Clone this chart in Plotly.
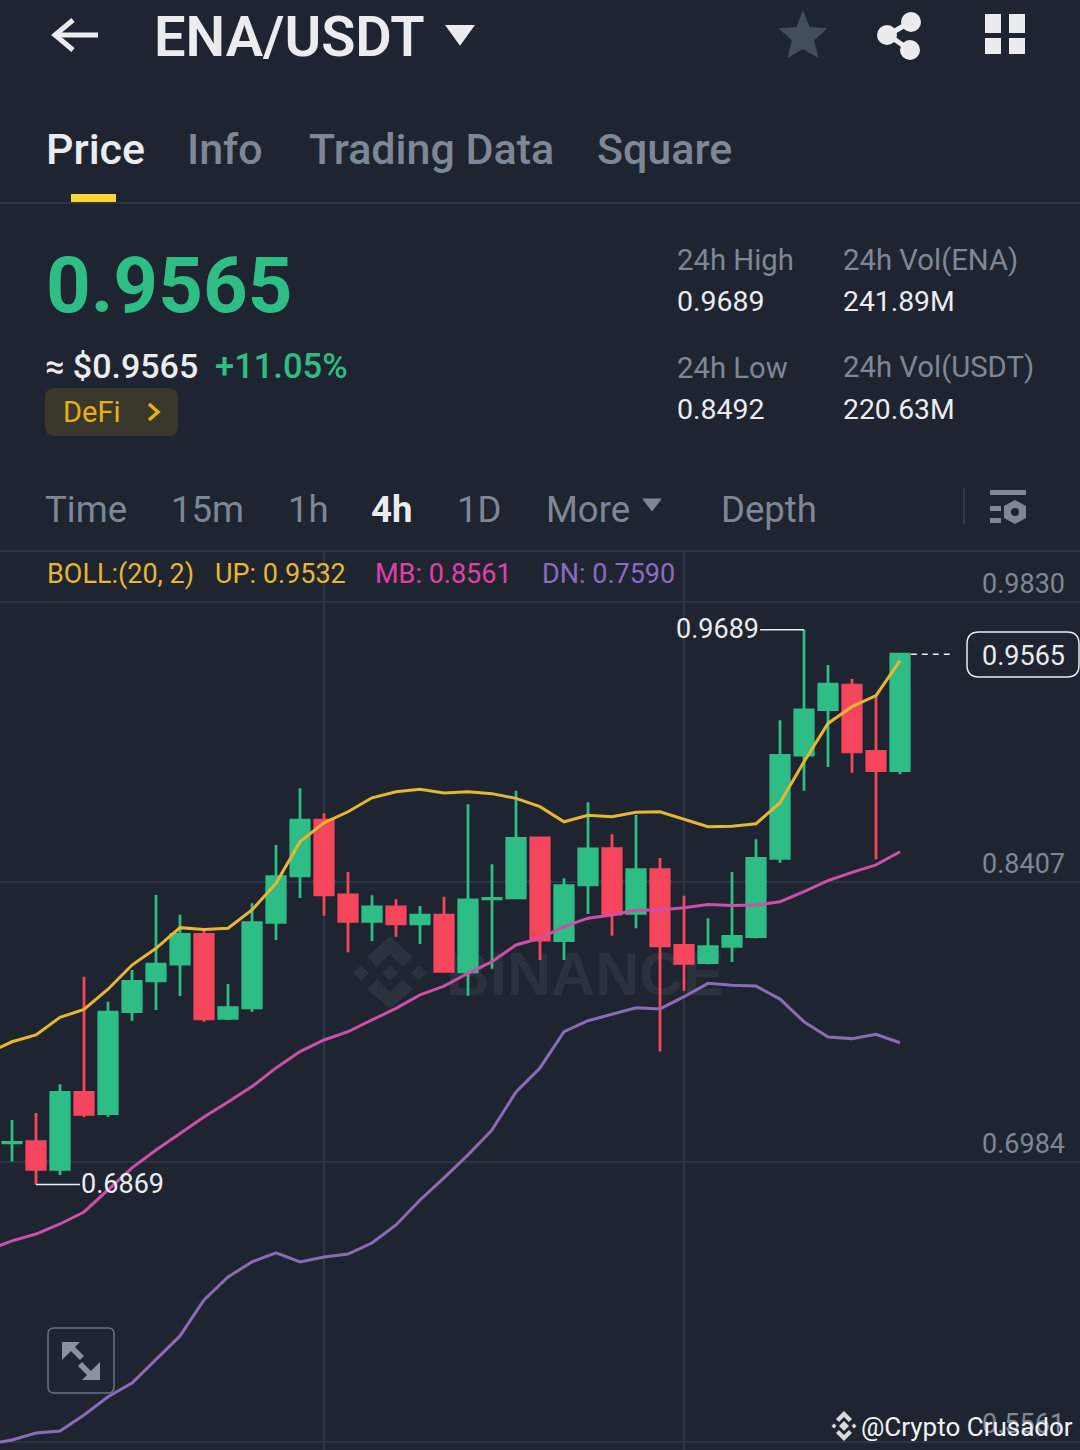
import plotly.graph_objects as go

# ---------- data ----------
candle_index = list(range(38))
opens = [0.7081,0.7087,0.6947,0.7338,0.7230,0.7748,0.7904,0.7990,0.8141,0.7714,0.7768,0.8202,0.8438,0.8721,0.8342,0.8207,0.8280,0.8194,0.8238,0.7950,0.8321,0.8327,0.8631,0.8109,0.8392,0.8576,0.8248,0.8470,0.8085,0.7997,0.8080,0.8129,0.8527,0.9052,0.9283,0.9407,0.9071,0.8973]
highs = [0.7197,0.7233,0.7379,0.7926,0.7799,0.7960,0.8341,0.8241,0.8163,0.7889,0.8299,0.8595,0.8883,0.8756,0.8458,0.8340,0.8319,0.8285,0.8332,0.8802,0.8497,0.8871,0.8634,0.8426,0.8812,0.8650,0.8748,0.8529,0.8337,0.8223,0.8458,0.8624,0.9229,0.9689,0.9510,0.9439,0.9354,0.9565]
lows = [0.6986,0.6869,0.6918,0.7211,0.7214,0.7702,0.7757,0.7828,0.7697,0.7706,0.7748,0.8112,0.8326,0.8236,0.8050,0.8107,0.8129,0.8092,0.7946,0.7829,0.7966,0.8327,0.8011,0.8011,0.8244,0.8134,0.8172,0.7545,0.7853,0.7989,0.8000,0.8121,0.8505,0.8871,0.8991,0.8962,0.8522,0.8954]
closes = [0.7083,0.6947,0.7338,0.7226,0.7745,0.7902,0.7989,0.8141,0.7711,0.7768,0.8200,0.8434,0.8721,0.8342,0.8207,0.8280,0.8194,0.8238,0.7953,0.8316,0.8324,0.8629,0.8112,0.8388,0.8575,0.8244,0.8470,0.8083,0.7994,0.8078,0.8131,0.8527,0.9051,0.9281,0.9412,0.9069,0.8973,0.9565]

band_index = list(range(-1, 38))
boll_up = [0.7539,0.7595,0.7630,0.7719,0.7760,0.7862,0.7985,0.8070,0.8175,0.8165,0.8172,0.8265,0.8400,0.8612,0.8708,0.8764,0.8835,0.8866,0.8878,0.8859,0.8866,0.8856,0.8832,0.8790,0.8713,0.8746,0.8739,0.8761,0.8764,0.8727,0.8688,0.8690,0.8703,0.8810,0.9018,0.9213,0.9298,0.9354,0.9532]
boll_mb = [0.6537,0.6583,0.6618,0.6669,0.6730,0.6842,0.6954,0.7045,0.7131,0.7213,0.7289,0.7367,0.7462,0.7545,0.7604,0.7646,0.7706,0.7765,0.7833,0.7878,0.7943,0.8002,0.8087,0.8121,0.8180,0.8223,0.8239,0.8265,0.8265,0.8276,0.8292,0.8287,0.8290,0.8307,0.8358,0.8414,0.8456,0.8494,0.8561]
boll_dn = [0.5551,0.5571,0.5607,0.5617,0.5698,0.5791,0.5861,0.5978,0.6100,0.6283,0.6400,0.6476,0.6522,0.6476,0.6501,0.6516,0.6572,0.6664,0.6791,0.6903,0.7020,0.7147,0.7340,0.7462,0.7646,0.7702,0.7736,0.7768,0.7762,0.7824,0.7892,0.7882,0.7878,0.7812,0.7697,0.7619,0.7611,0.7633,0.7590]

y_ticks = [0.9830, 0.8407, 0.6984, 0.5561]
y_tick_labels = ["0.9830", "0.8407", "0.6984", "0.5561"]
last_price = 0.9565
high_price = 0.9689
high_index = 33
low_price = 0.6869
low_index = 1

# ---------- style ----------
W, H = 1080, 1450
BG = "#1E2530"
GRID = "#2E3542"
GREEN = "#2EBD85"
RED = "#F6465D"
TXT = "#EAECEF"
GREY = "#7E8796"
YEL = "#E8B62F"
MAG = "#CE4FA8"
PUR = "#8A6BB8"
FONT = "Roboto"

fig = go.Figure()
fig.add_trace(go.Candlestick(
    x=candle_index, open=opens, high=highs, low=lows, close=closes,
    increasing=dict(line=dict(color=GREEN, width=2.8), fillcolor=GREEN),
    decreasing=dict(line=dict(color=RED, width=2.8), fillcolor=RED),
    whiskerwidth=0, showlegend=False, name="ENA/USDT"))
for name, vals, col in [("UP", boll_up, YEL), ("MB", boll_mb, MAG), ("DN", boll_dn, PUR)]:
    fig.add_trace(go.Scatter(x=band_index, y=vals, mode="lines", name=name,
                             line=dict(color=col, width=3), showlegend=False))

ann, shp = [], []
def px(x): return x / W
def py(y): return 1 - y / H
def T(text, x, y, size, color=TXT, anchor="left", weight=400, family=FONT):
    ann.append(dict(text=text, x=px(x - 3), y=py(y), xref="paper", yref="paper", xanchor=anchor,
                    yanchor="middle", showarrow=False,
                    font=dict(size=size, color=color, family=family, weight=weight)))
def path(points, fill=None, stroke=None, width=0, close=True, layer="above"):
    d = "M " + " L ".join(f"{px(a):.5f},{py(b):.5f}" for a, b in points) + (" Z" if close else "")
    shp.append(dict(type="path", path=d, xref="paper", yref="paper", layer=layer,
                    fillcolor=fill if fill else "rgba(0,0,0,0)",
                    line=dict(color=stroke if stroke else "rgba(0,0,0,0)", width=width)))
def rect(x0, y0, x1, y1, fill):
    path([(x0, y0), (x1, y0), (x1, y1), (x0, y1)], fill=fill)
def rrect(x0, y0, x1, y1, r, fill=None, stroke=None, width=0):
    X0, X1, Y0, Y1 = px(x0), px(x1), py(y0), py(y1)
    rx, ry = r / W, r / H
    d = (f"M {X0+rx},{Y0} L {X1-rx},{Y0} Q {X1},{Y0} {X1},{Y0-ry} L {X1},{Y1+ry} Q {X1},{Y1} {X1-rx},{Y1} "
         f"L {X0+rx},{Y1} Q {X0},{Y1} {X0},{Y1+ry} L {X0},{Y0-ry} Q {X0},{Y0} {X0+rx},{Y0} Z")
    shp.append(dict(type="path", path=d, xref="paper", yref="paper",
                    fillcolor=fill if fill else "rgba(0,0,0,0)",
                    line=dict(color=stroke if stroke else "rgba(0,0,0,0)", width=width)))
def circle(cx, cy, r, fill):
    shp.append(dict(type="circle", xref="paper", yref="paper", x0=px(cx - r), x1=px(cx + r),
                    y0=py(cy + r), y1=py(cy - r), fillcolor=fill, line=dict(width=0)))

# header
path([(73, 20), (55, 35), (73, 50)], stroke=TXT, width=5, close=False)
path([(56, 35), (98, 35)], stroke=TXT, width=5, close=False)
T("ENA/USDT", 155, 37, 56, weight=600)
path([(447, 26), (473, 26), (460, 44)], fill=TXT, stroke=TXT, width=2)
path([(803, 13), (809, 28), (825, 29), (813, 40), (817, 56), (803, 48), (789, 56), (793, 40), (781, 29), (797, 28)],
     fill="#434D5C", stroke="#434D5C", width=2)
path([(912, 21), (888, 35), (910, 50)], stroke=TXT, width=5, close=False)
circle(911, 22, 10, TXT); circle(887, 35, 10, TXT); circle(910, 50, 10, TXT)
rect(985, 14, 1001, 33, TXT); rect(1009, 14, 1025, 33, TXT)
rect(985, 38, 1001, 54, TXT); rect(1009, 38, 1025, 54, TXT)

# tabs
T("Price", 47, 149, 43, weight=500)
T("Info", 188, 149, 43, GREY, weight=500)
T("Trading Data", 310, 149, 43, GREY, weight=500)
T("Square", 598, 149, 43, GREY, weight=500)
rect(0, 202, W, 204, GRID)
rect(71, 194, 116, 202, "#FCD535")

# price block
T("0.9565", 47, 286, 78, GREEN, weight=700)
T("≈ $0.9565", 46, 366, 34, TXT, weight=500)
T("+11.05%", 216, 366, 34.5, GREEN, weight=500)
rrect(45, 388, 178, 436, 10, fill="#3A382C")
T("DeFi", 64, 412, 29, "#E8B10F")
path([(149, 404), (158, 412), (149, 420)], stroke="#E8B10F", width=3.5, close=False)
T("24h High", 678, 260, 29.3, GREY)
T("0.9689", 678, 301, 28.5)
T("24h Vol(ENA)", 844, 260, 29.3, GREY)
T("241.89M", 844, 301, 28.3)
T("24h Low", 678, 368, 29.3, GREY)
T("0.8492", 678, 409, 28.5)
T("24h Vol(USDT)", 844, 367, 29.3, GREY)
T("220.63M", 844, 409, 28.3)

# timeframe row
for label, x, col, w in [("Time", 46, GREY, 400), ("15m", 172, GREY, 400), ("1h", 289, GREY, 400),
                         ("4h", 372, TXT, 700), ("1D", 458, GREY, 400), ("More", 547, GREY, 400),
                         ("Depth", 722, GREY, 400)]:
    T(label, x, 509, 36.5, col, weight=w)
path([(643, 499), (661, 499), (652, 511)], fill=GREY, stroke=GREY, width=1)
rect(963, 488, 965, 524, "#343B48")
rect(990, 490, 1026, 495, GREY)
rect(990, 506, 1001, 511, GREY); rect(990, 518, 1001, 523, GREY)
path([(1015, 500), (1026, 506), (1026, 518), (1015, 524), (1004, 518), (1004, 506)], fill=GREY)
circle(1015, 512, 4, BG)
rect(0, 550, W, 552, GRID)

# indicator legend
T("BOLL:(20, 2)", 48, 574, 27, "#E8B62F")
T("UP: 0.9532", 216, 574, 27, "#E8B62F")
T("MB: 0.8561", 376, 574, 27, "#E040A8")
T("DN: 0.7590", 543, 574, 27, "#8C6BC4")

# watermark (below the marks)
WM = "#2C323D"
path([(353, 973), (361, 965), (369, 973), (361, 981)], fill=WM, layer="below")
path([(411, 973), (419, 965), (427, 973), (419, 981)], fill=WM, layer="below")
path([(382, 973), (390, 965), (398, 973), (390, 981)], fill=WM, layer="below")
path([(367, 957), (390, 936), (413, 957), (403, 967), (390, 954), (377, 967)], fill=WM, layer="below")
path([(367, 989), (377, 979), (390, 992), (403, 979), (413, 989), (390, 1009)], fill=WM, layer="below")
shp.append(dict(type="rect", xref="paper", yref="paper", x0=px(440), x1=px(730), y0=py(1008), y1=py(928),
                layer="below", line=dict(width=0), fillcolor="rgba(0,0,0,0)",
                label=dict(text="BINANCE", textposition="middle center",
                           font=dict(size=61, color=WM, family="Liberation Sans", weight=700))))

# price markers through the axes
shp.append(dict(type="line", xref="x", yref="y", x0=high_index, x1=high_index - 1.83, y0=high_price, y1=high_price,
                line=dict(color=TXT, width=1.5)))
ann.append(dict(text=f"{high_price:.4f}", x=high_index - 1.9, y=high_price, xref="x", yref="y", xanchor="right",
                yanchor="middle", showarrow=False, xshift=3, yshift=1, font=dict(size=27, color=TXT, family=FONT)))
shp.append(dict(type="line", xref="x", yref="y", x0=low_index, x1=low_index + 1.83, y0=low_price, y1=low_price,
                line=dict(color=TXT, width=1.5)))
ann.append(dict(text=f"{low_price:.4f}", x=low_index + 1.9, y=low_price, xref="x", yref="y", xanchor="left",
                yanchor="middle", showarrow=False, xshift=-3, yshift=1, font=dict(size=27, color=TXT, family=FONT)))
shp.append(dict(type="line", xref="x", yref="y", x0=37.45, x1=39.2, y0=last_price, y1=last_price,
                line=dict(color=TXT, width=1.5, dash="6px,5px")))
rrect(967, 632, 1079, 677, 12, fill=BG, stroke=TXT, width=1.5)
ann.append(dict(text=f"{last_price:.4f}", x=px(1023), y=last_price, xref="paper", yref="y", xanchor="center",
                yanchor="middle", showarrow=False, yshift=-2, font=dict(size=27, color=TXT, family=FONT)))

# expand button
rrect(48, 1328, 114, 1393, 6, stroke="#6A7280", width=1.5)
B = "#8A929E"
path([(62, 1342), (80, 1342), (75, 1347), (84, 1356), (80, 1360), (71, 1351), (62, 1360)], fill=B)
path([(100, 1380), (82, 1380), (87, 1375), (78, 1366), (82, 1362), (91, 1371), (100, 1362)], fill=B)

# author watermark
for c, s in [((844, 1426), 5), ((834, 1426), 2.5), ((854, 1426), 2.5)]:
    path([(c[0] - s, c[1]), (c[0], c[1] - s), (c[0] + s, c[1]), (c[0], c[1] + s)], fill="#D8DADD")
path([(836, 1419), (844, 1411), (852, 1419), (849, 1422), (844, 1417), (839, 1422)], fill="#D8DADD")
path([(836, 1433), (839, 1430), (844, 1435), (849, 1430), (852, 1433), (844, 1441)], fill="#D8DADD")
T("@Crypto Crusador", 862, 1427, 26, "#F2F3F5")

fig.update_layout(
    width=W, height=H, margin=dict(l=0, r=0, t=0, b=0),
    paper_bgcolor=BG, plot_bgcolor=BG, showlegend=False, hovermode=False,
    boxgap=0.233, boxgroupgap=0,
    annotations=ann, shapes=shp,
    xaxis=dict(range=[-0.5, 44.5], domain=[0, 1], rangeslider=dict(visible=False), showticklabels=False,
               tickvals=[13, 28], showgrid=True, gridcolor=GRID, gridwidth=1.5, zeroline=False, ticks=""),
    yaxis=dict(range=[0.55203, 1.00841], domain=[0, 898 / 1450], side="right", tickvals=y_ticks,
               ticktext=y_tick_labels, ticklabelposition="inside", ticklabelstandoff=12, ticklabelshift=-18,
               tickfont=dict(size=27, color=GREY, family=FONT), showgrid=True, gridcolor=GRID,
               gridwidth=1.5, zeroline=False, ticks=""),
)
fig.write_html("out.html", config=dict(displayModeBar=False),
               post_script="document.body.style.margin='0';document.body.style.background='%s';" % BG)
